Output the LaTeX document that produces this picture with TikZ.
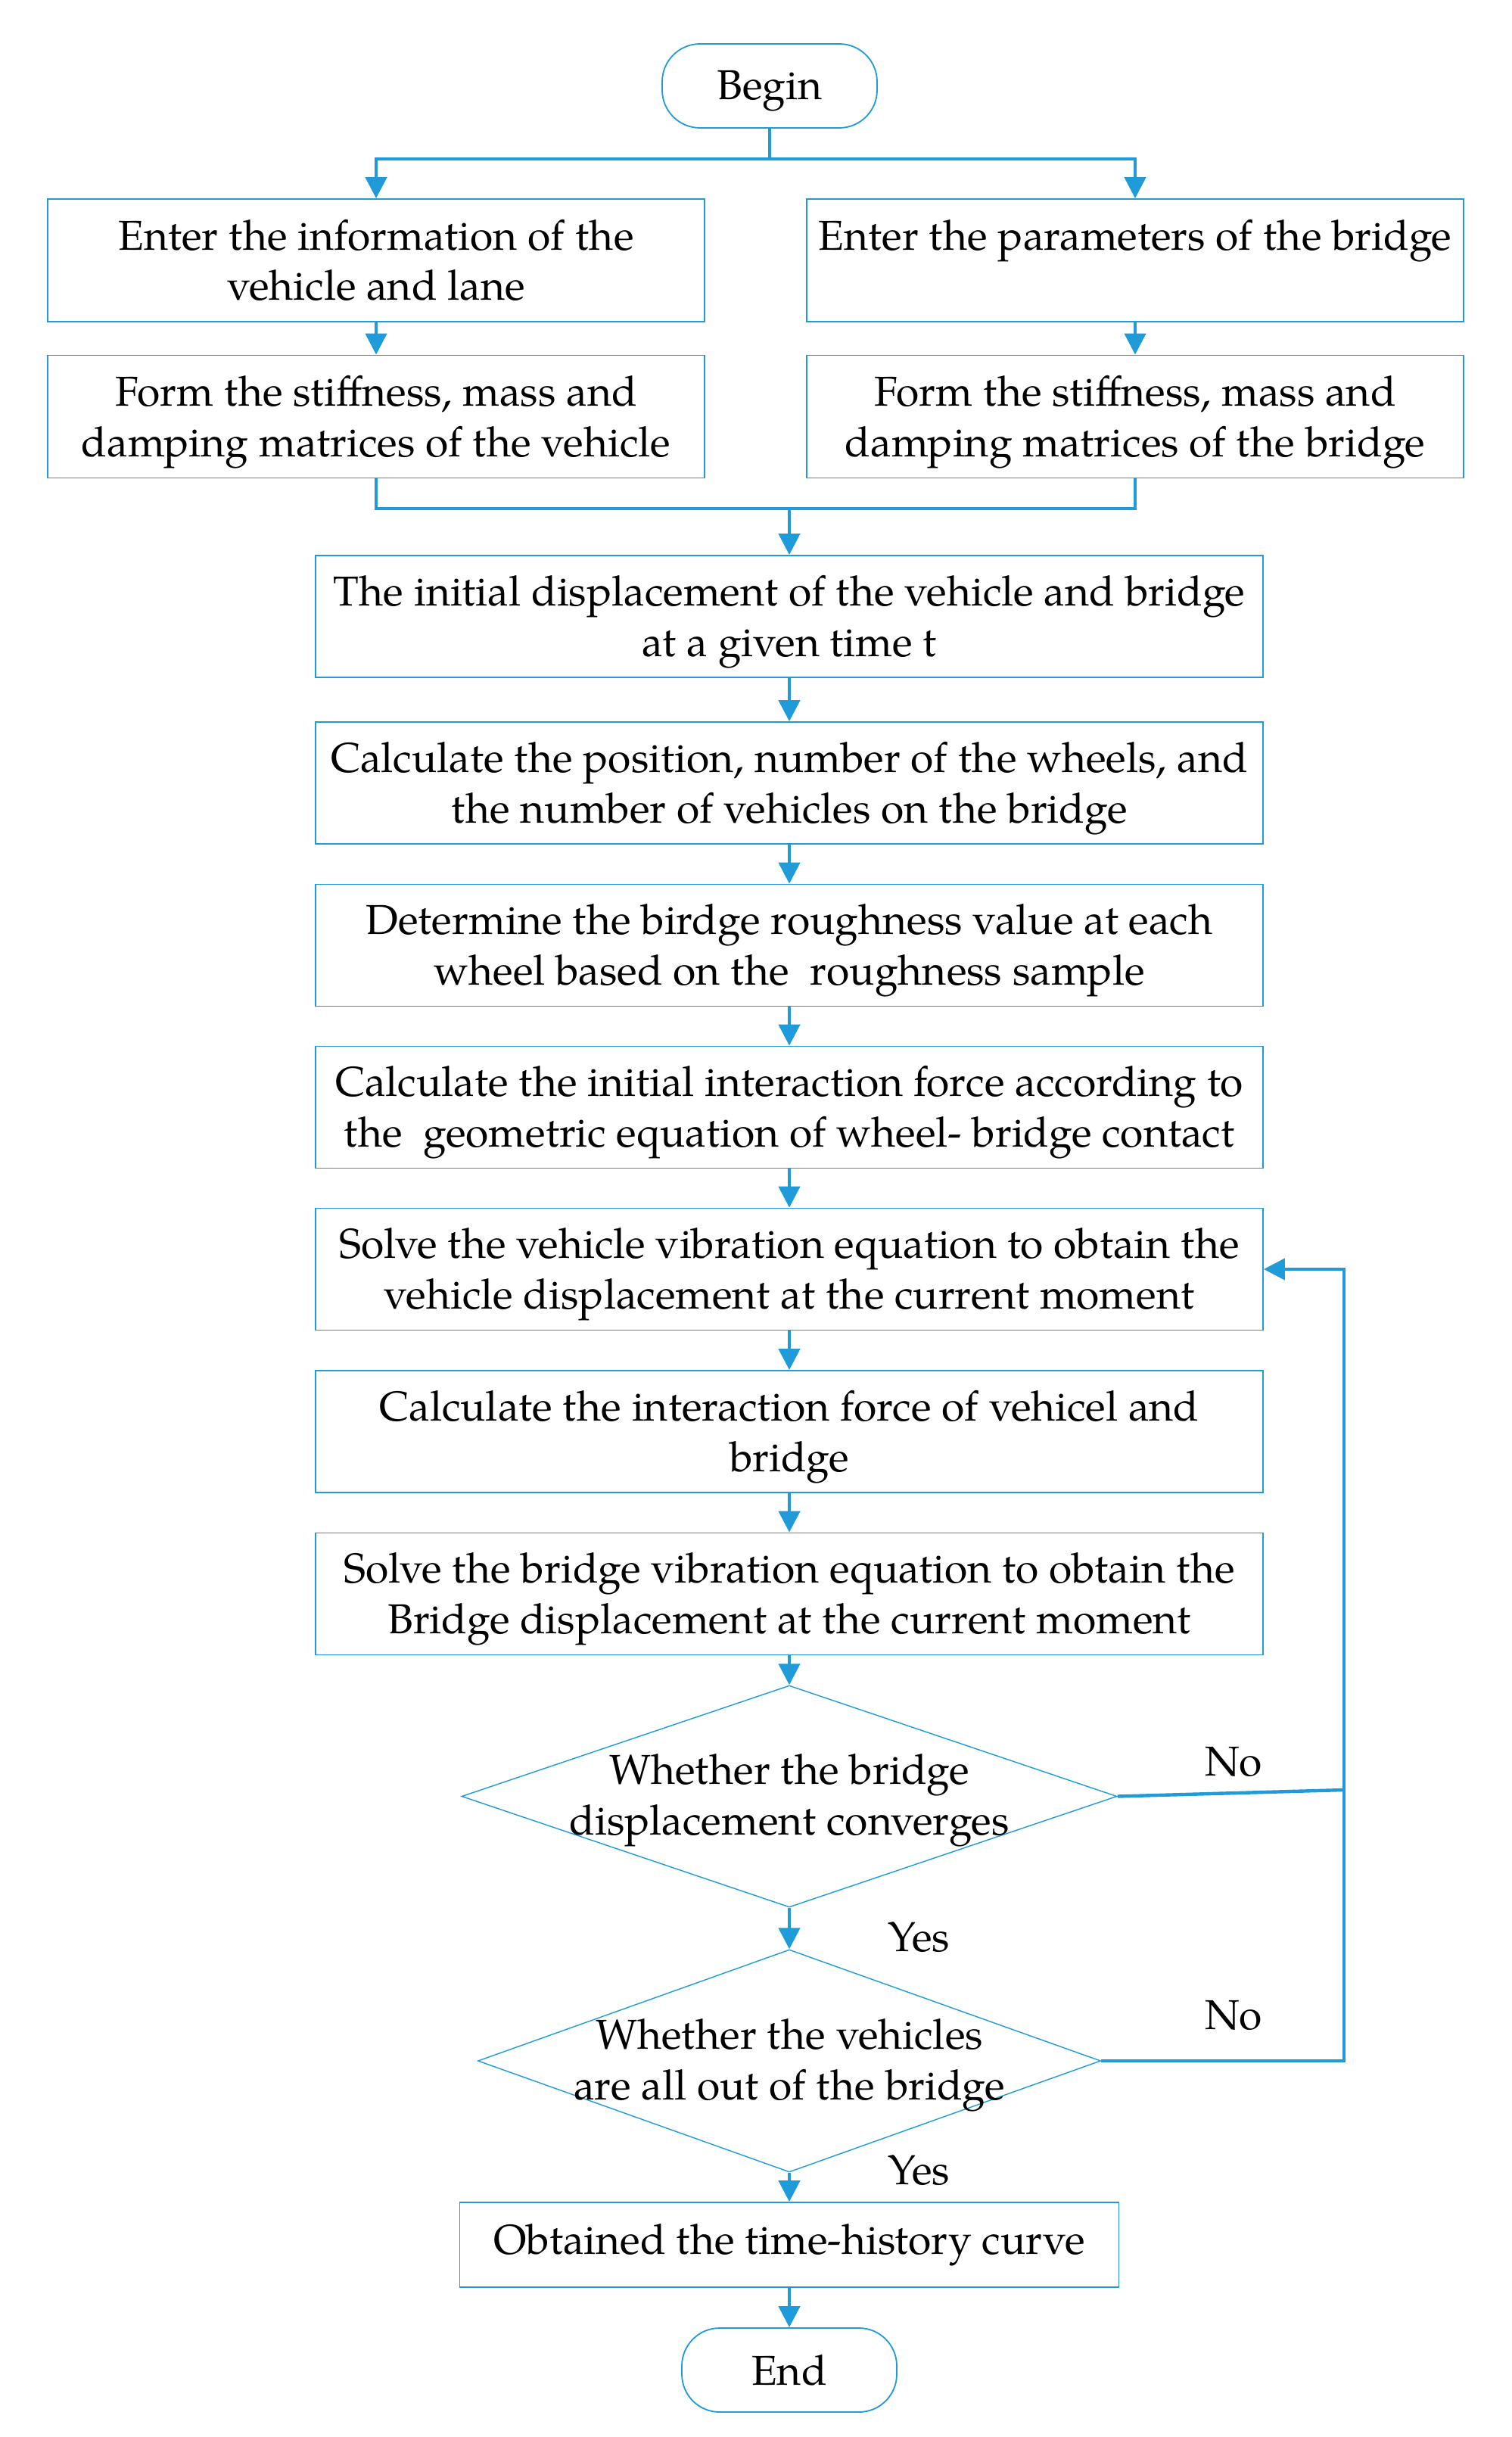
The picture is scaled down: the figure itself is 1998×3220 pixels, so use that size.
\documentclass[tikz,border=0pt]{standalone}
\usepackage{fontspec}
\setmainfont{TeX Gyre Pagella}
\usetikzlibrary{shapes.geometric,arrows.meta}
\definecolor{fcblue}{RGB}{30,155,216}
\begin{document}
\begin{tikzpicture}[x=0.25pt,y=-0.25pt,
  every node/.style={font=\fontsize{13.8}{16.7}\selectfont, text=black},
  lower/.style={execute at begin node={\rule{0pt}{13pt}}},
  box/.style={draw=fcblue, line width=0.45pt, align=center, inner sep=0pt, minimum height=40.25pt},
  mainbox/.style={box, minimum width=313pt},
  sidebox/.style={box, minimum width=217pt, minimum height=40.5pt},
  btext/.style={align=center, inner sep=0pt},
  term/.style={draw=fcblue, line width=0.45pt, rounded corners=12.5pt, minimum width=71pt, minimum height=27.75pt, inner sep=0pt},
  dec/.style={draw=fcblue, line width=0.35pt, diamond, inner sep=0pt},
  conn/.style={draw=fcblue, line width=1.1pt},
  arr/.style={conn, -{Triangle[length=7pt,width=7pt]}},
  lbl/.style={anchor=base, inner sep=0pt}
]
\useasboundingbox (0,0) rectangle (1998,3220);

\node[term, lower] (begin) at (1017,113.5) {Begin};
\node[sidebox] (b1l) at (497,344) {Enter the information of the\\vehicle and lane};
\node[sidebox] (b1r) at (1500,344) {Enter the parameters of the bridge\\\mbox{}};
\node[sidebox] (b2l) at (497,550.5) {};
\node[btext] (b2lt) at ([yshift=-1.75pt]b2l.center) {Form the stiffness, mass and\\damping matrices of the vehicle};
\node[sidebox] (b2r) at (1500,550.5) {};
\node[btext] (b2rt) at ([yshift=-1.75pt]b2r.center) {Form the stiffness, mass and\\damping matrices of the bridge};

\node[mainbox] (b3) at (1043,814.5) {};
\node[btext] (b3t) at ([yshift=-1.75pt]b3.center) {The initial displacement of the vehicle and bridge\\at a given time t};
\node[mainbox] (b4) at (1043,1034.5) {};
\node[btext] (b4t) at ([yshift=-1.75pt]b4.center) {Calculate the position, number of the wheels, and\\the number of vehicles on the bridge};
\node[mainbox] (b5) at (1043,1249) {};
\node[btext] (b5t) at ([yshift=-1.75pt]b5.center) {Determine the birdge roughness value at each\\wheel based on the\ \ roughness sample};
\node[mainbox] (b6) at (1043,1463) {};
\node[btext] (b6t) at ([yshift=-1.75pt]b6.center) {Calculate the initial interaction force according to\\the\ \ geometric equation of wheel- bridge contact};
\node[mainbox] (b7) at (1043,1677) {};
\node[btext] (b7t) at ([yshift=-1.75pt]b7.center) {Solve the vehicle vibration equation to obtain the\\vehicle displacement at the current moment};
\node[mainbox] (b8) at (1043,1891.5) {};
\node[btext] (b8t) at ([yshift=-1.75pt]b8.center) {Calculate the interaction force of vehicel and\\bridge};
\node[mainbox] (b9) at (1043,2106) {};
\node[btext] (b9t) at ([yshift=-1.75pt]b9.center) {Solve the bridge vibration equation to obtain the\\Bridge displacement at the current moment};

\node[dec, minimum width=216.5pt, minimum height=73.25pt] (d1) at (1043,2373.5) {};
\node[btext] (d1t) at (1043,2379) {Whether the bridge\\displacement converges};
\node[dec, minimum width=205.75pt, minimum height=73.5pt] (d2) at (1043,2723) {};
\node[btext] (d2t) at (1043,2728.5) {Whether the vehicles\\are all out of the bridge};

\node[box, minimum width=217.75pt, minimum height=28pt] (b10) at (1043,2966) {Obtained the time-history curve};
\node[term] (end) at (1043,3131.5) {End};

\node[lbl] (no1) at (1630,2346) {No};
\node[lbl] (no2) at (1630,2681) {No};
\node[lbl] (yes1) at (1214,2578) {Yes};
\node[lbl] (yes2) at (1214,2886) {Yes};

\coordinate (fk) at (1017,210);
\draw[conn] (begin.south) -- (fk);
\draw[arr] (fk) -| (b1l.north);
\draw[arr] (fk) -| (b1r.north);
\draw[arr] (b1l) -- (b2l);
\draw[arr] (b1r) -- (b2r);
\coordinate (jn) at (1043,672);
\draw[conn] (b2l.south) |- (jn) -| (b2r.south);
\draw[arr] (jn) -- (b3.north);
\draw[arr] (b3) -- (b4);
\draw[arr] (b4) -- (b5);
\draw[arr] (b5) -- (b6);
\draw[arr] (b6) -- (b7);
\draw[arr] (b7) -- (b8);
\draw[arr] (b8) -- (b9);
\draw[arr] (b9) -- (d1);
\draw[arr] (d1) -- (d2);
\draw[arr] (d2) -- (b10);
\draw[arr] (b10) -- (end);

\coordinate (lp1) at (1776,2365);
\coordinate (lp2) at (1776,1677);
\draw[conn] (d1.east) -- (lp1);
\draw[arr] (d2.east) -| (lp2) -- (b7.east);
\end{tikzpicture}
\end{document}
